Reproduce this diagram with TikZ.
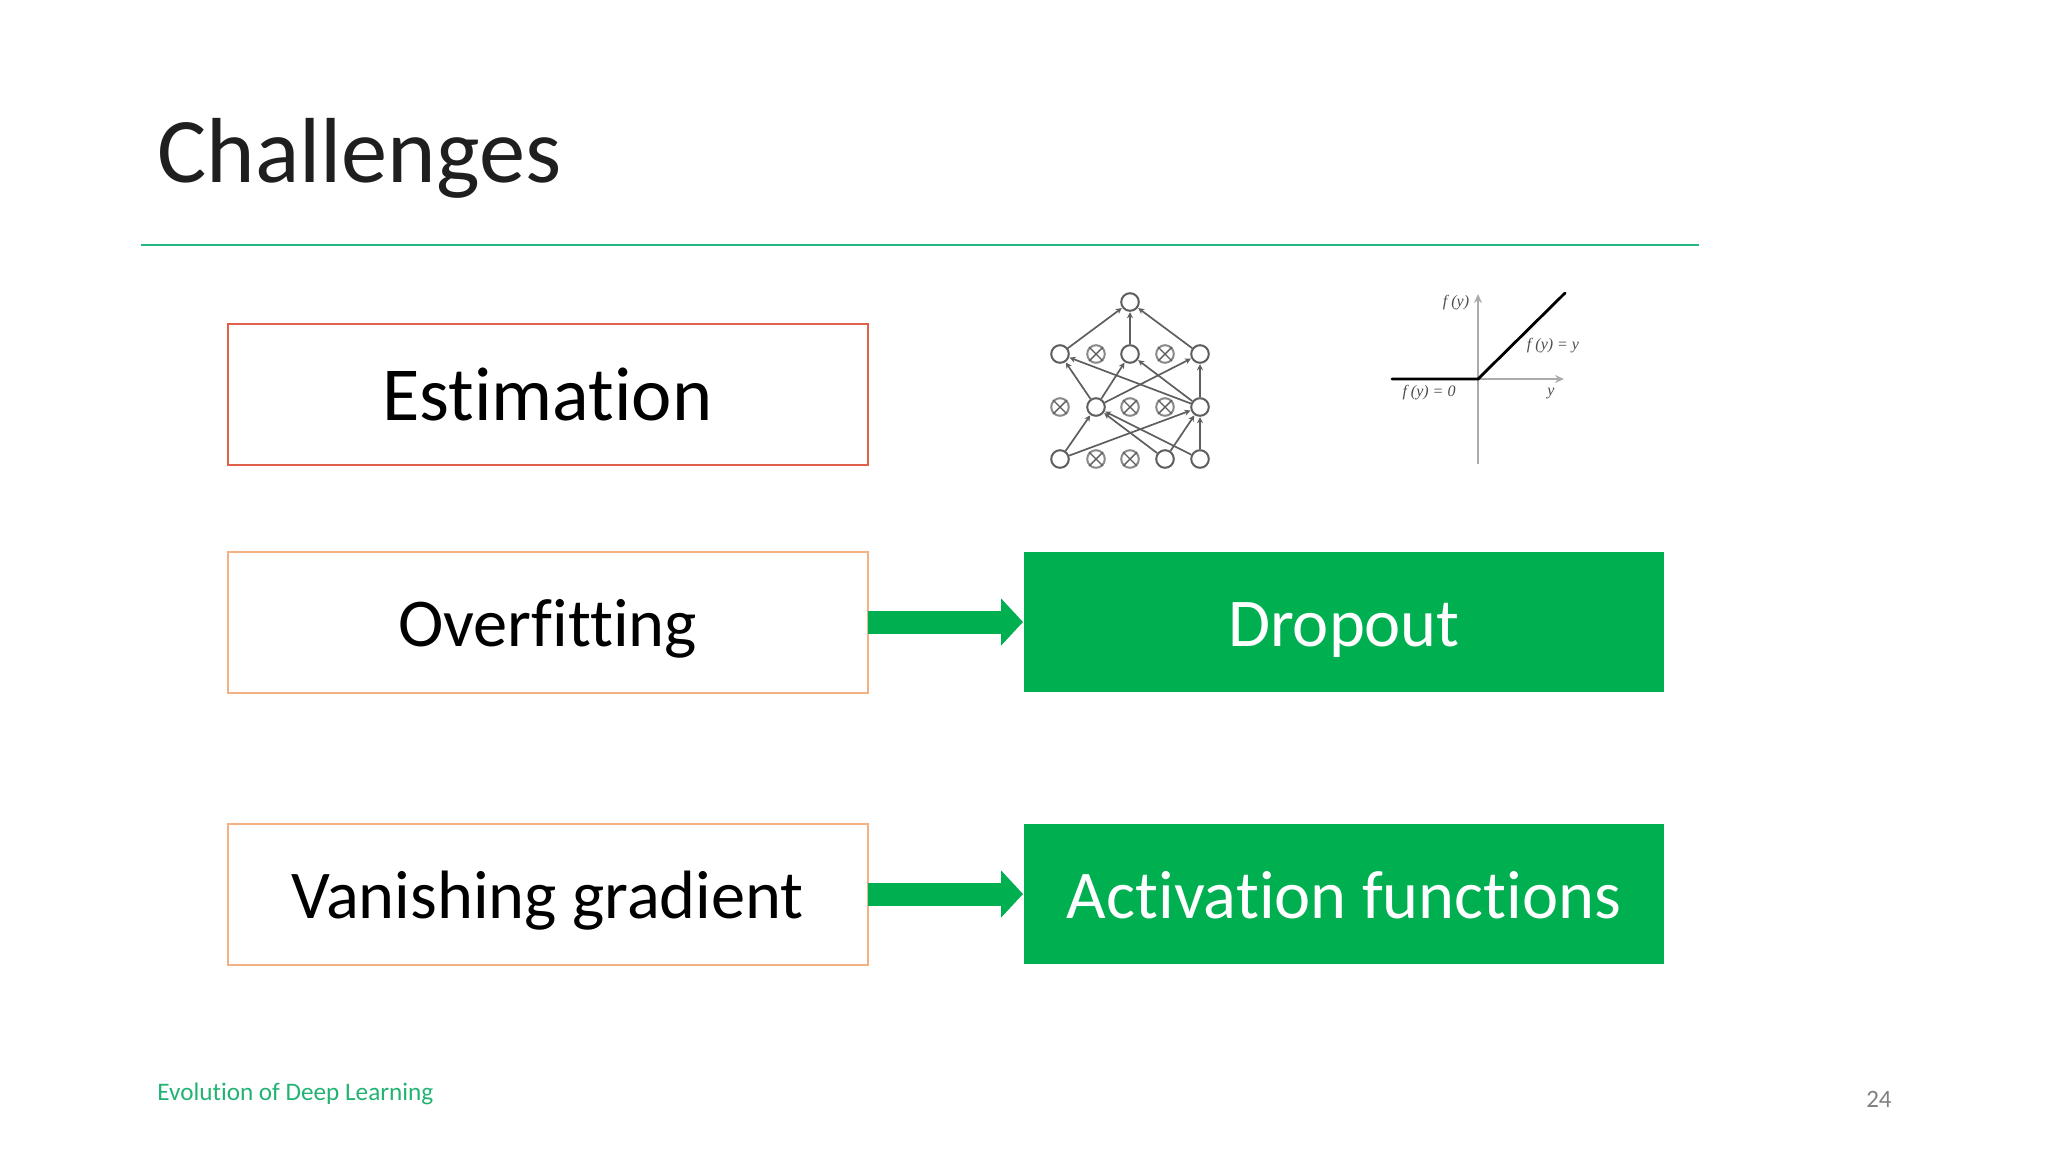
\documentclass[tikz,border=0pt]{standalone}
\usepackage{fontspec}
\setmainfont[Ligatures=NoCommon]{Carlito}
\newfontfamily\plotfont{Liberation Serif}
\usetikzlibrary{arrows.meta}
\definecolor{slidegreen}{HTML}{00B050}
\definecolor{footgreen}{HTML}{22B373}
\definecolor{rulegreen}{HTML}{22B880}
\definecolor{redline}{HTML}{E0604A}
\definecolor{orangeline}{HTML}{F4B183}
\definecolor{netgray}{HTML}{5E5E5E}
\definecolor{crossgray}{HTML}{8A8A8A}
\definecolor{axisgray}{HTML}{ABABAB}
\tikzset{
  px/.style={x=0.5pt,y=-0.5pt},
  box/.style={draw,line width=1pt,minimum width=320pt,minimum height=70.5pt,inner sep=0pt,text height=30pt,text depth=6pt,font=\fontsize{34.2}{40}\selectfont,text=black},
  estbox/.style={box,draw=redline,text height=32.5pt,font=\fontsize{38.2}{44}\selectfont},
  probbox/.style={box,draw=orangeline},
  solbox/.style={box,draw=none,minimum width=320pt,minimum height=70pt,fill=slidegreen,text=white},
  fatarrow/.style={draw=slidegreen,line width=11.5pt,-{Triangle[length=11pt,width=23pt,fill=slidegreen]},shorten <=-0.5pt},
  neuron/.style={circle,draw=netgray,line width=1pt,fill=white,minimum size=8.8pt,inner sep=0pt},
  dropped/.style={neuron,draw=crossgray},
  netedge/.style={draw=netgray,line width=0.85pt,-{Stealth[length=3pt,width=3pt]},shorten >=0.2pt},
  crossline/.style={draw=netgray,line width=0.7pt},
  axisline/.style={draw=axisgray,line width=0.9pt,-{Stealth[length=4.5pt,width=4pt]}},
  curveline/.style={draw=black,line width=1.4pt,line cap=round},
  plotlabel/.style={font=\plotfont\itshape\fontsize{8}{9}\selectfont,text=black!70,inner sep=0pt},
}
\begin{document}
\begin{tikzpicture}[px]
\useasboundingbox (0,0) rectangle (2048,1152);
% title
\node[anchor=base west,inner sep=0pt,font=\fontsize{46.2}{52}\selectfont,text=black!88] (title) at (157,182) {Challenges};
\coordinate (ruleL) at (141,245);
\coordinate (ruleR) at (1699,245);
\draw[rulegreen,line width=1pt] (ruleL) -- (ruleR);
% boxes
\node[estbox] (est) at (547.5,394) {Estimation};
\node[probbox] (over) at (547.5,622) {Overfitting};
\node[probbox] (van) at (547.5,894) {Vanishing gradient};
\node[solbox] (drop) at (1344,622) {Dropout};
\node[solbox] (act) at (1344,894) {Activation functions};
\draw[fatarrow] (over.east) -- (drop.west);
\draw[fatarrow] (van.east) -- (act.west);
% network
\node[neuron] (top) at (1130,302) {};
\foreach \n/\x in {a/1060,c/1130,e/1200} \node[neuron] (p\n) at (\x,354) {};
\foreach \n/\x in {b/1096,e/1200} \node[neuron] (q\n) at (\x,407) {};
\foreach \n/\x in {a/1060,d/1165,e/1200} \node[neuron] (r\n) at (\x,459) {};
\foreach \n/\x/\y in {pb/1096/354,pd/1165/354,qa/1060/407,qc/1130/407,qd/1165/407,rb/1096/459,rc/1130/459}{
  \node[dropped] (\n) at (\x,\y) {};
  \draw[crossline] (\n.north west) -- (\n.south east);
  \draw[crossline] (\n.north east) -- (\n.south west);
}
\foreach \s/\t in {ra/qb,ra/qe,rd/qb,re/qb,rd/qe,re/qe,qb/pa,qb/pc,qb/pe,qe/pa,qe/pc,qe/pe,pa/top,pc/top,pe/top}
  \draw[netedge] (\s) -- (\t);
% plot
\coordinate (origin) at (1478,379);
\coordinate (vbot) at (1478,464);
\coordinate (vtop) at (1478,294);
\coordinate (hend) at (1564,379);
\coordinate (cleft) at (1392,379);
\coordinate (cright) at (1565,293);
\draw[axisline] (vbot) -- (vtop);
\draw[axisline] (origin) -- (hend);
\draw[curveline] (cleft) -- (origin) -- (cright);
\node[plotlabel] (fy) at (1456,303) {f (y)};
\node[plotlabel] (fyy) at (1553,346) {f (y) = y};
\node[plotlabel] (fy0) at (1429,393) {f (y) = 0};
\node[plotlabel] (yl) at (1551,394) {y};
% footer
\node[anchor=base west,inner sep=0pt,font=\fontsize{12.6}{15}\selectfont,text=footgreen] (foot) at (157,1100) {Evolution of Deep Learning};
\node[anchor=base east,inner sep=0pt,font=\fontsize{12.5}{15}\selectfont,text=black!50] (num) at (1892,1107.5) {24};
\end{tikzpicture}
\end{document}
